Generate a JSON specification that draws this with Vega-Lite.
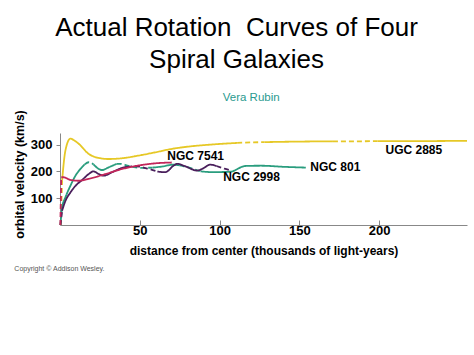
{
  "$schema": "https://vega.github.io/schema/vega-lite/v6.json",
  "width": 407,
  "height": 92,
  "autosize": {"type": "none"},
  "padding": {"left": 60, "top": 133, "right": 7, "bottom": 130},
  "background": "white",
  "config": {"view": {"stroke": null}, "font": "Liberation Sans"},
  "title": {
    "text": ["Actual Rotation\u00a0 Curves of Four", "Spiral Galaxies"],
    "font": "Liberation Sans",
    "fontSize": 26,
    "fontWeight": "normal",
    "lineHeight": 32,
    "color": "black",
    "anchor": "middle",
    "frame": "group",
    "dx": -27,
    "offset": 19
  },
  "datasets": {
    "curves": [
      {"g": "UGC 2885", "seg": "Y1", "kind": "interpolated", "x": 0.5, "v": 0},
      {"g": "UGC 2885", "seg": "Y1", "kind": "interpolated", "x": 1.3, "v": 165},
      {"g": "UGC 2885", "seg": "Y2", "kind": "observed", "x": 1.3, "v": 165},
      {"g": "UGC 2885", "seg": "Y2", "kind": "observed", "x": 3.4, "v": 278},
      {"g": "UGC 2885", "seg": "Y2", "kind": "observed", "x": 6.5, "v": 322},
      {"g": "UGC 2885", "seg": "Y2", "kind": "observed", "x": 9, "v": 315},
      {"g": "UGC 2885", "seg": "Y2", "kind": "observed", "x": 11.7, "v": 303},
      {"g": "UGC 2885", "seg": "Y2", "kind": "observed", "x": 18, "v": 265},
      {"g": "UGC 2885", "seg": "Y2", "kind": "observed", "x": 24.3, "v": 250},
      {"g": "UGC 2885", "seg": "Y2", "kind": "observed", "x": 30.6, "v": 246},
      {"g": "UGC 2885", "seg": "Y2", "kind": "observed", "x": 39, "v": 249},
      {"g": "UGC 2885", "seg": "Y2", "kind": "observed", "x": 49.4, "v": 259},
      {"g": "UGC 2885", "seg": "Y2", "kind": "observed", "x": 59.8, "v": 271},
      {"g": "UGC 2885", "seg": "Y2", "kind": "observed", "x": 70.3, "v": 284},
      {"g": "UGC 2885", "seg": "Y2", "kind": "observed", "x": 80, "v": 292},
      {"g": "UGC 2885", "seg": "Y2", "kind": "observed", "x": 95, "v": 300},
      {"g": "UGC 2885", "seg": "Y2", "kind": "observed", "x": 111, "v": 306},
      {"g": "UGC 2885", "seg": "Y3", "kind": "interpolated", "x": 111, "v": 306},
      {"g": "UGC 2885", "seg": "Y3", "kind": "interpolated", "x": 120, "v": 308},
      {"g": "UGC 2885", "seg": "Y3", "kind": "interpolated", "x": 128, "v": 309},
      {"g": "UGC 2885", "seg": "Y4", "kind": "observed", "x": 128, "v": 309},
      {"g": "UGC 2885", "seg": "Y4", "kind": "observed", "x": 150, "v": 311},
      {"g": "UGC 2885", "seg": "Y4", "kind": "observed", "x": 171, "v": 312},
      {"g": "UGC 2885", "seg": "Y5", "kind": "interpolated", "x": 171, "v": 312},
      {"g": "UGC 2885", "seg": "Y5", "kind": "interpolated", "x": 185, "v": 312},
      {"g": "UGC 2885", "seg": "Y5", "kind": "interpolated", "x": 199, "v": 313},
      {"g": "UGC 2885", "seg": "Y6", "kind": "observed", "x": 199, "v": 313},
      {"g": "UGC 2885", "seg": "Y6", "kind": "observed", "x": 230, "v": 313},
      {"g": "UGC 2885", "seg": "Y6", "kind": "observed", "x": 255, "v": 314},

      {"g": "NGC 801", "seg": "T1", "kind": "observed", "x": 0.3, "v": 0},
      {"g": "NGC 801", "seg": "T1", "kind": "observed", "x": 1.3, "v": 65},
      {"g": "NGC 801", "seg": "T1", "kind": "observed", "x": 3.4, "v": 103},
      {"g": "NGC 801", "seg": "T1", "kind": "observed", "x": 6.5, "v": 146},
      {"g": "NGC 801", "seg": "T1", "kind": "observed", "x": 9.7, "v": 184},
      {"g": "NGC 801", "seg": "T1", "kind": "observed", "x": 12.8, "v": 209},
      {"g": "NGC 801", "seg": "T1", "kind": "observed", "x": 15.5, "v": 226},
      {"g": "NGC 801", "seg": "T2", "kind": "interpolated", "x": 15.5, "v": 226},
      {"g": "NGC 801", "seg": "T2", "kind": "interpolated", "x": 18, "v": 234},
      {"g": "NGC 801", "seg": "T2", "kind": "interpolated", "x": 21, "v": 226},
      {"g": "NGC 801", "seg": "T3", "kind": "observed", "x": 21, "v": 226},
      {"g": "NGC 801", "seg": "T3", "kind": "observed", "x": 24.3, "v": 209},
      {"g": "NGC 801", "seg": "T3", "kind": "observed", "x": 26.4, "v": 205},
      {"g": "NGC 801", "seg": "T3", "kind": "observed", "x": 30.5, "v": 215},
      {"g": "NGC 801", "seg": "T3", "kind": "observed", "x": 35.5, "v": 228},
      {"g": "NGC 801", "seg": "T4", "kind": "interpolated", "x": 35.5, "v": 228},
      {"g": "NGC 801", "seg": "T4", "kind": "interpolated", "x": 38, "v": 228},
      {"g": "NGC 801", "seg": "T4", "kind": "interpolated", "x": 43, "v": 220},
      {"g": "NGC 801", "seg": "T4", "kind": "interpolated", "x": 47.3, "v": 215},
      {"g": "NGC 801", "seg": "T4", "kind": "interpolated", "x": 52, "v": 213},
      {"g": "NGC 801", "seg": "T4", "kind": "interpolated", "x": 58, "v": 214},
      {"g": "NGC 801", "seg": "T5", "kind": "observed", "x": 58, "v": 214},
      {"g": "NGC 801", "seg": "T5", "kind": "observed", "x": 64, "v": 218},
      {"g": "NGC 801", "seg": "T5", "kind": "observed", "x": 71, "v": 225},
      {"g": "NGC 801", "seg": "T5", "kind": "observed", "x": 75, "v": 222},
      {"g": "NGC 801", "seg": "T6", "kind": "interpolated", "x": 75, "v": 222},
      {"g": "NGC 801", "seg": "T6", "kind": "interpolated", "x": 82, "v": 212},
      {"g": "NGC 801", "seg": "T6", "kind": "interpolated", "x": 88, "v": 200},
      {"g": "NGC 801", "seg": "T7", "kind": "observed", "x": 88, "v": 200},
      {"g": "NGC 801", "seg": "T7", "kind": "observed", "x": 96, "v": 197},
      {"g": "NGC 801", "seg": "T7", "kind": "observed", "x": 107, "v": 199},
      {"g": "NGC 801", "seg": "T7", "kind": "observed", "x": 116, "v": 220},
      {"g": "NGC 801", "seg": "T7", "kind": "observed", "x": 126, "v": 221},
      {"g": "NGC 801", "seg": "T7", "kind": "observed", "x": 140, "v": 217},
      {"g": "NGC 801", "seg": "T7", "kind": "observed", "x": 154, "v": 214},

      {"g": "NGC 2998", "seg": "P1", "kind": "interpolated", "x": 0.3, "v": 0},
      {"g": "NGC 2998", "seg": "P1", "kind": "interpolated", "x": 1.3, "v": 53},
      {"g": "NGC 2998", "seg": "P2", "kind": "observed", "x": 1.3, "v": 53},
      {"g": "NGC 2998", "seg": "P2", "kind": "observed", "x": 3.4, "v": 90},
      {"g": "NGC 2998", "seg": "P2", "kind": "observed", "x": 6.5, "v": 121},
      {"g": "NGC 2998", "seg": "P2", "kind": "observed", "x": 9.7, "v": 146},
      {"g": "NGC 2998", "seg": "P2", "kind": "observed", "x": 13.9, "v": 168},
      {"g": "NGC 2998", "seg": "P2", "kind": "observed", "x": 18, "v": 190},
      {"g": "NGC 2998", "seg": "P2", "kind": "observed", "x": 21, "v": 200},
      {"g": "NGC 2998", "seg": "P2", "kind": "observed", "x": 24.3, "v": 190},
      {"g": "NGC 2998", "seg": "P2", "kind": "observed", "x": 27.4, "v": 184},
      {"g": "NGC 2998", "seg": "P2", "kind": "observed", "x": 32.7, "v": 197},
      {"g": "NGC 2998", "seg": "P2", "kind": "observed", "x": 39, "v": 213},
      {"g": "NGC 2998", "seg": "P2", "kind": "observed", "x": 42, "v": 217},
      {"g": "NGC 2998", "seg": "P3", "kind": "interpolated", "x": 42, "v": 217},
      {"g": "NGC 2998", "seg": "P3", "kind": "interpolated", "x": 47.3, "v": 219},
      {"g": "NGC 2998", "seg": "P3", "kind": "interpolated", "x": 55.6, "v": 209},
      {"g": "NGC 2998", "seg": "P3", "kind": "interpolated", "x": 61, "v": 199},
      {"g": "NGC 2998", "seg": "P4", "kind": "observed", "x": 61, "v": 199},
      {"g": "NGC 2998", "seg": "P4", "kind": "observed", "x": 66, "v": 197},
      {"g": "NGC 2998", "seg": "P4", "kind": "observed", "x": 71.3, "v": 222},
      {"g": "NGC 2998", "seg": "P4", "kind": "observed", "x": 73.5, "v": 228},
      {"g": "NGC 2998", "seg": "P4", "kind": "observed", "x": 78, "v": 220},
      {"g": "NGC 2998", "seg": "P4", "kind": "observed", "x": 86, "v": 203},
      {"g": "NGC 2998", "seg": "P4", "kind": "observed", "x": 90, "v": 212},
      {"g": "NGC 2998", "seg": "P4", "kind": "observed", "x": 94, "v": 225},
      {"g": "NGC 2998", "seg": "P4", "kind": "observed", "x": 98, "v": 220},
      {"g": "NGC 2998", "seg": "P5", "kind": "interpolated", "x": 98, "v": 220},
      {"g": "NGC 2998", "seg": "P5", "kind": "interpolated", "x": 103, "v": 210},
      {"g": "NGC 2998", "seg": "P5", "kind": "interpolated", "x": 107, "v": 203},

      {"g": "NGC 7541", "seg": "R1", "kind": "interpolated", "x": 0.2, "v": 0},
      {"g": "NGC 7541", "seg": "R1", "kind": "interpolated", "x": 0.8, "v": 178},
      {"g": "NGC 7541", "seg": "R2", "kind": "observed", "x": 0.8, "v": 178},
      {"g": "NGC 7541", "seg": "R2", "kind": "observed", "x": 2.3, "v": 178},
      {"g": "NGC 7541", "seg": "R2", "kind": "observed", "x": 6.5, "v": 168},
      {"g": "NGC 7541", "seg": "R2", "kind": "observed", "x": 11.7, "v": 165},
      {"g": "NGC 7541", "seg": "R2", "kind": "observed", "x": 18, "v": 172},
      {"g": "NGC 7541", "seg": "R2", "kind": "observed", "x": 28.5, "v": 190},
      {"g": "NGC 7541", "seg": "R2", "kind": "observed", "x": 39, "v": 209},
      {"g": "NGC 7541", "seg": "R2", "kind": "observed", "x": 49.4, "v": 222},
      {"g": "NGC 7541", "seg": "R2", "kind": "observed", "x": 59.8, "v": 230},
      {"g": "NGC 7541", "seg": "R2", "kind": "observed", "x": 70, "v": 233}
    ],
    "labels": [
      {"label": "NGC 7541", "x": 85, "v": 256},
      {"label": "NGC 2998", "x": 120, "v": 180},
      {"label": "NGC 801", "x": 172.5, "v": 218},
      {"label": "UGC 2885", "x": 221.7, "v": 279}
    ]
  },
  "layer": [
    {
      "data": {"name": "curves"},
      "mark": {"type": "line", "strokeWidth": 1.8, "interpolate": "monotone", "clip": false},
      "encoding": {
        "x": {
          "field": "x",
          "type": "quantitative",
          "scale": {"domain": [0, 255], "nice": false},
          "axis": {
            "values": [50, 100, 150, 200],
            "title": "distance from center (thousands of light-years)",
            "titleFont": "Liberation Sans",
            "titleFontSize": 12,
            "titleFontWeight": "bold",
            "titleColor": "black",
            "titlePadding": 8,
            "labelFont": "Liberation Sans",
            "labelFontSize": 13,
            "labelFontWeight": "bold",
            "labelColor": "black",
            "labelPadding": 4,
            "tickSize": -5,
            "tickColor": "#888888",
            "domainColor": "#888888",
            "grid": false
          }
        },
        "y": {
          "field": "v",
          "type": "quantitative",
          "scale": {"domain": [0, 343], "nice": false},
          "axis": {
            "values": [100, 200, 300],
            "title": "orbital velocity (km/s)",
            "titleFont": "Liberation Sans",
            "titleFontSize": 12.5,
            "titleFontWeight": "bold",
            "titleColor": "black",
            "titlePadding": 4,
            "titleY": 41,
            "labelFont": "Liberation Sans",
            "labelFontSize": 13,
            "labelFontWeight": "bold",
            "labelColor": "black",
            "labelPadding": 4,
            "tickSize": 4,
            "tickColor": "#888888",
            "domainColor": "#888888",
            "grid": false
          }
        },
        "color": {
          "field": "g",
          "type": "nominal",
          "scale": {
            "domain": ["UGC 2885", "NGC 801", "NGC 2998", "NGC 7541"],
            "range": ["#e6c826", "#2a9d7e", "#4a1f5c", "#c2265a"]
          },
          "legend": null
        },
        "strokeDash": {
          "field": "kind",
          "type": "nominal",
          "scale": {"domain": ["observed", "interpolated"], "range": [[1, 0], [5, 3]]},
          "legend": null
        },
        "detail": {"field": "seg"}
      }
    },
    {
      "data": {"name": "labels"},
      "mark": {"type": "text", "font": "Liberation Sans", "fontSize": 12, "fontWeight": "bold", "color": "black", "align": "center", "baseline": "middle"},
      "encoding": {
        "x": {"field": "x", "type": "quantitative"},
        "y": {"field": "v", "type": "quantitative"},
        "text": {"field": "label"}
      }
    },
    {
      "data": {"values": [{"note": "Vera Rubin"}]},
      "mark": {"type": "text", "font": "Liberation Sans", "fontSize": 11.5, "color": "#2a9a8f", "align": "center", "baseline": "alphabetic"},
      "encoding": {
        "x": {"datum": 119.8, "type": "quantitative"},
        "y": {"datum": 463, "type": "quantitative"},
        "text": {"field": "note"}
      }
    },
    {
      "data": {"values": [{"note": "Copyright \u00a9 Addison Wesley."}]},
      "mark": {"type": "text", "font": "Liberation Sans", "fontSize": 7, "color": "#555555", "align": "left", "baseline": "middle"},
      "encoding": {
        "x": {"datum": -28.6, "type": "quantitative"},
        "y": {"datum": -165, "type": "quantitative"},
        "text": {"field": "note"}
      }
    }
  ]
}
